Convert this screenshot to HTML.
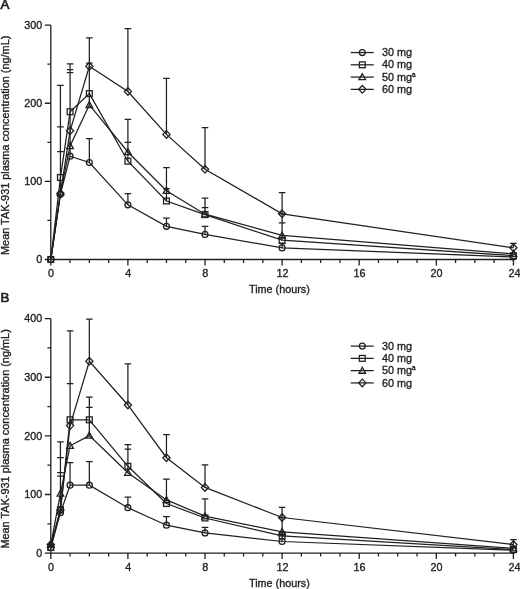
<!DOCTYPE html>
<html><head><meta charset="utf-8"><title>TAK-931 plasma concentration</title>
<style>
html,body{margin:0;padding:0;background:#fff}
svg{display:block}
.t{font-family:"Liberation Sans",sans-serif;font-size:10.8px;fill:#231f20;stroke:#231f20;stroke-width:0.35px}
.sup{font-size:6.4px}
.b{font-family:"Liberation Sans",sans-serif;font-size:13.3px;fill:#231f20;stroke:#231f20;stroke-width:0.7px}
.ax{fill:none;stroke:#231f20;stroke-width:1.3}
.ln{fill:none;stroke:#231f20;stroke-width:1.25}
.mk{fill:none;stroke:#231f20;stroke-width:1.3}
</style></head><body>
<svg width="520" height="589" viewBox="0 0 520 589">
<rect width="520" height="589" fill="#fff"/>
<path class="ax" d="M50.8 25.10V259.50H513.40"/>
<path class="ax" d="M44.80 259.50H50.8M47.40 220.43H50.8M44.80 181.37H50.8M47.40 142.30H50.8M44.80 103.23H50.8M47.40 64.17H50.8M44.80 25.10H50.8M50.80 259.50v6.0M70.07 259.50v3.4M89.35 259.50v3.4M108.62 259.50v3.4M127.90 259.50v6.0M147.18 259.50v3.4M166.45 259.50v3.4M185.72 259.50v3.4M205.00 259.50v6.0M224.27 259.50v3.4M243.55 259.50v3.4M262.82 259.50v3.4M282.10 259.50v6.0M301.38 259.50v3.4M320.65 259.50v3.4M339.93 259.50v3.4M359.20 259.50v6.0M378.47 259.50v3.4M397.75 259.50v3.4M417.02 259.50v3.4M436.30 259.50v6.0M455.57 259.50v3.4M474.85 259.50v3.4M494.12 259.50v3.4M513.40 259.50v6.0"/>
<text class="t" x="42.2" y="263.3" text-anchor="end">0</text>
<text class="t" x="42.2" y="185.2" text-anchor="end">100</text>
<text class="t" x="42.2" y="107.0" text-anchor="end">200</text>
<text class="t" x="42.2" y="28.9" text-anchor="end">300</text>
<text class="t" x="51.1" y="277.1" text-anchor="middle">0</text>
<text class="t" x="128.2" y="277.1" text-anchor="middle">4</text>
<text class="t" x="205.3" y="277.1" text-anchor="middle">8</text>
<text class="t" x="282.4" y="277.1" text-anchor="middle">12</text>
<text class="t" x="359.5" y="277.1" text-anchor="middle">16</text>
<text class="t" x="436.6" y="277.1" text-anchor="middle">20</text>
<text class="t" x="514.5" y="277.1" text-anchor="middle">24</text>
<text class="t" x="279.4" y="292.9" text-anchor="middle">Time (hours)</text>
<text class="t" style="font-size:10.9px" transform="translate(9 145.3) rotate(-90)" text-anchor="middle">Mean TAK-931 plasma concentration (ng/mL)</text>
<text class="b" x="0.5" y="9.0">A</text>
<path class="ln" d="M57.14 151.50h6.6M57.14 85.40h6.6M57.14 126.90h6.6M60.44 85.40V194.30M66.77 69.60h6.6M66.77 72.60h6.6M66.77 69.60h6.6M66.77 63.90h6.6M70.07 63.90V156.20M86.05 138.50h6.6M86.05 63.00h6.6M86.05 63.20h6.6M86.05 37.90h6.6M89.35 37.90V104.90M89.35 138.50V162.50M124.60 193.70h6.6M124.60 142.30h6.6M124.60 119.30h6.6M124.60 28.70h6.6M127.90 28.70V91.50M127.90 119.30V161.20M127.90 193.70V204.80M163.15 218.00h6.6M163.15 188.50h6.6M163.15 167.70h6.6M163.15 78.30h6.6M166.45 78.30V134.40M166.45 167.70V201.00M166.45 218.00V226.30M201.70 226.30h6.6M201.70 207.70h6.6M201.70 198.00h6.6M201.70 127.70h6.6M205.00 127.70V169.30M205.00 198.00V214.60M205.00 226.30V234.40M278.80 243.50h6.6M278.80 213.80h6.6M278.80 222.90h6.6M278.80 192.70h6.6M282.10 192.70V240.20M282.10 243.50V247.90M510.10 243.30h6.6M513.40 243.30V247.80"/>
<polyline class="ln" points="50.80,259.50 60.44,194.30 70.07,156.20 89.35,162.50 127.90,204.80 166.45,226.30 205.00,234.40 282.10,247.90 513.40,257.00"/>
<polyline class="ln" points="50.80,259.50 60.44,177.50 70.07,111.80 89.35,93.60 127.90,161.20 166.45,201.00 205.00,214.60 282.10,240.20 513.40,255.70"/>
<polyline class="ln" points="50.80,259.50 60.44,192.50 70.07,146.00 89.35,104.90 127.90,152.00 166.45,190.80 205.00,214.20 282.10,235.40 513.40,253.80"/>
<polyline class="ln" points="50.80,259.50 60.44,193.50 70.07,130.80 89.35,66.30 127.90,91.50 166.45,134.40 205.00,169.30 282.10,213.80 513.40,247.80"/>
<circle class="mk" cx="50.80" cy="259.50" r="2.95"/>
<circle class="mk" cx="60.44" cy="194.30" r="2.95"/>
<circle class="mk" cx="70.07" cy="156.20" r="2.95"/>
<circle class="mk" cx="89.35" cy="162.50" r="2.95"/>
<circle class="mk" cx="127.90" cy="204.80" r="2.95"/>
<circle class="mk" cx="166.45" cy="226.30" r="2.95"/>
<circle class="mk" cx="205.00" cy="234.40" r="2.95"/>
<circle class="mk" cx="282.10" cy="247.90" r="2.95"/>
<circle class="mk" cx="513.40" cy="257.00" r="2.95"/>
<rect class="mk" x="47.90" y="256.60" width="5.8" height="5.8"/>
<rect class="mk" x="57.54" y="174.60" width="5.8" height="5.8"/>
<rect class="mk" x="67.17" y="108.90" width="5.8" height="5.8"/>
<rect class="mk" x="86.45" y="90.70" width="5.8" height="5.8"/>
<rect class="mk" x="125.00" y="158.30" width="5.8" height="5.8"/>
<rect class="mk" x="163.55" y="198.10" width="5.8" height="5.8"/>
<rect class="mk" x="202.10" y="211.70" width="5.8" height="5.8"/>
<rect class="mk" x="279.20" y="237.30" width="5.8" height="5.8"/>
<rect class="mk" x="510.50" y="252.80" width="5.8" height="5.8"/>
<path class="mk" d="M60.44 189.10L63.74 195.10H57.14Z"/>
<path class="mk" d="M70.07 142.60L73.37 148.60H66.77Z"/>
<path class="mk" d="M89.35 101.50L92.65 107.50H86.05Z"/>
<path class="mk" d="M127.90 148.60L131.20 154.60H124.60Z"/>
<path class="mk" d="M166.45 187.40L169.75 193.40H163.15Z"/>
<path class="mk" d="M205.00 210.80L208.30 216.80H201.70Z"/>
<path class="mk" d="M282.10 232.00L285.40 238.00H278.80Z"/>
<path class="mk" d="M513.40 250.40L516.70 256.40H510.10Z"/>
<path class="mk" d="M60.44 189.70L64.04 193.50L60.44 197.30L56.84 193.50Z"/>
<path class="mk" d="M70.07 127.00L73.67 130.80L70.07 134.60L66.47 130.80Z"/>
<path class="mk" d="M89.35 62.50L92.95 66.30L89.35 70.10L85.75 66.30Z"/>
<path class="mk" d="M127.90 87.70L131.50 91.50L127.90 95.30L124.30 91.50Z"/>
<path class="mk" d="M166.45 130.60L170.05 134.40L166.45 138.20L162.85 134.40Z"/>
<path class="mk" d="M205.00 165.50L208.60 169.30L205.00 173.10L201.40 169.30Z"/>
<path class="mk" d="M282.10 210.00L285.70 213.80L282.10 217.60L278.50 213.80Z"/>
<path class="mk" d="M513.40 244.00L517.00 247.80L513.40 251.60L509.80 247.80Z"/>
<path class="ln" d="M350.7 52.55H373.7"/>
<circle class="mk" cx="362.30" cy="52.55" r="2.95"/>
<text class="t" x="382" y="56.15">30 mg</text>
<path class="ln" d="M350.7 64.82H373.7"/>
<rect class="mk" x="359.40" y="61.92" width="5.8" height="5.8"/>
<text class="t" x="382" y="68.42">40 mg</text>
<path class="ln" d="M350.7 77.09H373.7"/>
<path class="mk" d="M362.30 73.69L365.60 79.69H359.00Z"/>
<text class="t" x="382" y="80.69">50 mg<tspan class="sup" dy="-3.8">a</tspan></text>
<path class="ln" d="M350.7 89.36H373.7"/>
<path class="mk" d="M362.30 85.56L365.90 89.36L362.30 93.16L358.70 89.36Z"/>
<text class="t" x="382" y="92.96">60 mg</text>
<path class="ax" d="M50.8 318.60V553.10H513.40"/>
<path class="ax" d="M44.80 553.10H50.8M47.40 523.79H50.8M44.80 494.48H50.8M47.40 465.16H50.8M44.80 435.85H50.8M47.40 406.54H50.8M44.80 377.23H50.8M47.40 347.91H50.8M44.80 318.60H50.8M50.80 553.10v6.0M70.07 553.10v3.4M89.35 553.10v3.4M108.62 553.10v3.4M127.90 553.10v6.0M147.18 553.10v3.4M166.45 553.10v3.4M185.72 553.10v3.4M205.00 553.10v6.0M224.27 553.10v3.4M243.55 553.10v3.4M262.82 553.10v3.4M282.10 553.10v6.0M301.38 553.10v3.4M320.65 553.10v3.4M339.93 553.10v3.4M359.20 553.10v6.0M378.47 553.10v3.4M397.75 553.10v3.4M417.02 553.10v3.4M436.30 553.10v6.0M455.57 553.10v3.4M474.85 553.10v3.4M494.12 553.10v3.4M513.40 553.10v6.0"/>
<text class="t" x="42.2" y="556.9" text-anchor="end">0</text>
<text class="t" x="42.2" y="498.3" text-anchor="end">100</text>
<text class="t" x="42.2" y="439.7" text-anchor="end">200</text>
<text class="t" x="42.2" y="381.0" text-anchor="end">300</text>
<text class="t" x="42.2" y="322.4" text-anchor="end">400</text>
<text class="t" x="51.1" y="570.6" text-anchor="middle">0</text>
<text class="t" x="128.2" y="570.6" text-anchor="middle">4</text>
<text class="t" x="205.3" y="570.6" text-anchor="middle">8</text>
<text class="t" x="282.4" y="570.6" text-anchor="middle">12</text>
<text class="t" x="359.5" y="570.6" text-anchor="middle">16</text>
<text class="t" x="436.6" y="570.6" text-anchor="middle">20</text>
<text class="t" x="514.5" y="570.6" text-anchor="middle">24</text>
<text class="t" x="279.4" y="587.0" text-anchor="middle">Time (hours)</text>
<text class="t" style="font-size:10.9px" transform="translate(9 438.9) rotate(-90)" text-anchor="middle">Mean TAK-931 plasma concentration (ng/mL)</text>
<text class="b" x="0.5" y="302.4">B</text>
<path class="ln" d="M57.14 476.00h6.6M57.14 472.70h6.6M57.14 457.70h6.6M57.14 441.90h6.6M60.44 441.90V512.70M66.77 462.50h6.6M66.77 383.70h6.6M66.77 330.80h6.6M70.07 330.80V425.60M70.07 462.50V485.20M86.05 461.50h6.6M86.05 397.00h6.6M86.05 407.40h6.6M86.05 319.20h6.6M89.35 319.20V361.30M89.35 397.00V435.60M89.35 461.50V485.20M124.60 497.10h6.6M124.60 449.00h6.6M124.60 444.60h6.6M124.60 363.80h6.6M127.90 363.80V405.00M127.90 444.60V472.70M127.90 497.10V507.70M163.15 516.70h6.6M163.15 479.20h6.6M163.15 434.60h6.6M166.45 434.60V457.70M166.45 479.20V499.90M166.45 516.70V525.20M201.70 527.30h6.6M201.70 498.90h6.6M201.70 464.80h6.6M205.00 464.80V487.40M205.00 498.90V516.20M205.00 527.30V532.90M278.80 535.80h6.6M278.80 531.90h6.6M278.80 517.50h6.6M278.80 507.40h6.6M282.10 507.40V541.50M510.10 539.70h6.6M513.40 539.70V544.60"/>
<polyline class="ln" points="50.80,547.70 60.44,512.70 70.07,485.20 89.35,485.20 127.90,507.70 166.45,525.20 205.00,532.90 282.10,541.50 513.40,550.20"/>
<polyline class="ln" points="50.80,547.50 60.44,509.80 70.07,419.80 89.35,419.80 127.90,466.30 166.45,503.50 205.00,518.00 282.10,535.80 513.40,549.50"/>
<polyline class="ln" points="50.80,544.60 60.44,493.50 70.07,445.80 89.35,435.60 127.90,472.70 166.45,499.90 205.00,516.20 282.10,531.90 513.40,548.30"/>
<polyline class="ln" points="50.80,544.40 60.44,510.00 70.07,425.60 89.35,361.30 127.90,405.00 166.45,457.70 205.00,487.40 282.10,517.50 513.40,544.60"/>
<circle class="mk" cx="50.80" cy="547.70" r="2.95"/>
<circle class="mk" cx="60.44" cy="512.70" r="2.95"/>
<circle class="mk" cx="70.07" cy="485.20" r="2.95"/>
<circle class="mk" cx="89.35" cy="485.20" r="2.95"/>
<circle class="mk" cx="127.90" cy="507.70" r="2.95"/>
<circle class="mk" cx="166.45" cy="525.20" r="2.95"/>
<circle class="mk" cx="205.00" cy="532.90" r="2.95"/>
<circle class="mk" cx="282.10" cy="541.50" r="2.95"/>
<circle class="mk" cx="513.40" cy="550.20" r="2.95"/>
<rect class="mk" x="47.90" y="544.60" width="5.8" height="5.8"/>
<rect class="mk" x="57.54" y="506.90" width="5.8" height="5.8"/>
<rect class="mk" x="67.17" y="416.90" width="5.8" height="5.8"/>
<rect class="mk" x="86.45" y="416.90" width="5.8" height="5.8"/>
<rect class="mk" x="125.00" y="463.40" width="5.8" height="5.8"/>
<rect class="mk" x="163.55" y="500.60" width="5.8" height="5.8"/>
<rect class="mk" x="202.10" y="515.10" width="5.8" height="5.8"/>
<rect class="mk" x="279.20" y="532.90" width="5.8" height="5.8"/>
<rect class="mk" x="510.50" y="546.60" width="5.8" height="5.8"/>
<path class="mk" d="M50.80 541.20L54.10 547.20H47.50Z"/>
<path class="mk" d="M60.44 490.10L63.74 496.10H57.14Z"/>
<path class="mk" d="M70.07 442.40L73.37 448.40H66.77Z"/>
<path class="mk" d="M89.35 432.20L92.65 438.20H86.05Z"/>
<path class="mk" d="M127.90 469.30L131.20 475.30H124.60Z"/>
<path class="mk" d="M166.45 496.50L169.75 502.50H163.15Z"/>
<path class="mk" d="M205.00 512.80L208.30 518.80H201.70Z"/>
<path class="mk" d="M282.10 528.50L285.40 534.50H278.80Z"/>
<path class="mk" d="M513.40 544.90L516.70 550.90H510.10Z"/>
<path class="mk" d="M50.80 540.60L54.40 544.40L50.80 548.20L47.20 544.40Z"/>
<path class="mk" d="M60.44 506.20L64.04 510.00L60.44 513.80L56.84 510.00Z"/>
<path class="mk" d="M70.07 421.80L73.67 425.60L70.07 429.40L66.47 425.60Z"/>
<path class="mk" d="M89.35 357.50L92.95 361.30L89.35 365.10L85.75 361.30Z"/>
<path class="mk" d="M127.90 401.20L131.50 405.00L127.90 408.80L124.30 405.00Z"/>
<path class="mk" d="M166.45 453.90L170.05 457.70L166.45 461.50L162.85 457.70Z"/>
<path class="mk" d="M205.00 483.60L208.60 487.40L205.00 491.20L201.40 487.40Z"/>
<path class="mk" d="M282.10 513.70L285.70 517.50L282.10 521.30L278.50 517.50Z"/>
<path class="mk" d="M513.40 540.80L517.00 544.60L513.40 548.40L509.80 544.60Z"/>
<path class="ln" d="M350.7 346.10H373.7"/>
<circle class="mk" cx="362.30" cy="346.10" r="2.95"/>
<text class="t" x="382" y="349.70">30 mg</text>
<path class="ln" d="M350.7 358.37H373.7"/>
<rect class="mk" x="359.40" y="355.47" width="5.8" height="5.8"/>
<text class="t" x="382" y="361.97">40 mg</text>
<path class="ln" d="M350.7 370.64H373.7"/>
<path class="mk" d="M362.30 367.24L365.60 373.24H359.00Z"/>
<text class="t" x="382" y="374.24">50 mg<tspan class="sup" dy="-3.8">a</tspan></text>
<path class="ln" d="M350.7 382.91H373.7"/>
<path class="mk" d="M362.30 379.11L365.90 382.91L362.30 386.71L358.70 382.91Z"/>
<text class="t" x="382" y="386.51">60 mg</text>
</svg>
</body></html>
